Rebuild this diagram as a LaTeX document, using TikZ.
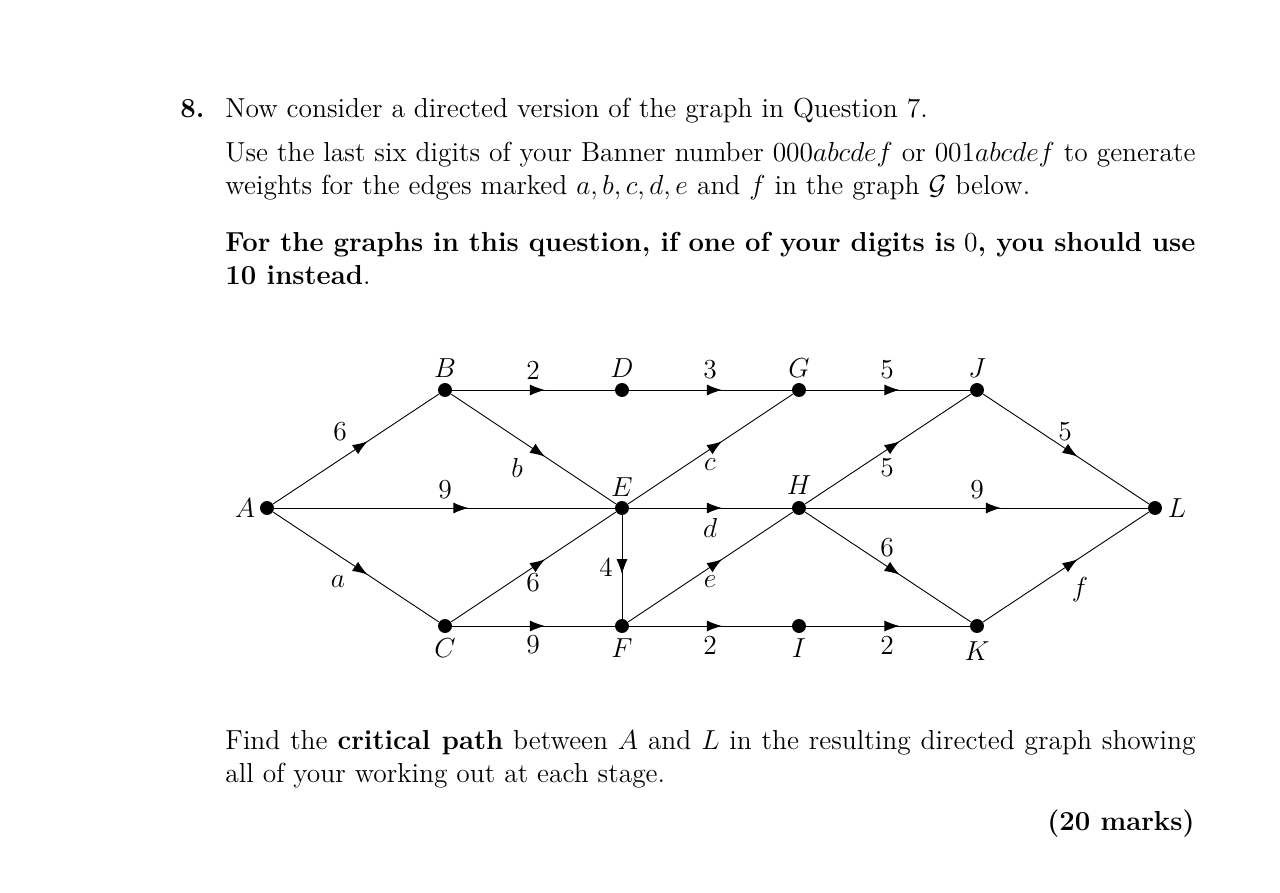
\documentclass[tikz,border=0pt]{standalone}
\usetikzlibrary{decorations.markings,arrows.meta}
\begin{document}
\begin{tikzpicture}[x=1pt,y=-1pt,
  every node/.style={scale=2.29,font=\fontsize{12}{14.4}\selectfont},
  vtx/.style={circle,fill=black,inner sep=0pt,minimum size=6.1pt},
  lbl/.style={inner sep=0pt},
  edge/.style={line width=0.9pt,postaction={decorate},decoration={markings,
    mark=at position 0.57 with {\arrow{Latex[length=15pt,width=11pt]}}}}]
\useasboundingbox (0,0) rectangle (1280,893);
\node[lbl,anchor=base west] at (180,118) {\textbf{8.}};
\node[lbl,anchor=base west] at (225,118) {Now consider a directed version of the graph in Question 7.};
\node[lbl,anchor=north west] (p1) at (225,142) {\parbox[t]{423.6pt}{Use the last six digits of your Banner number $000abcdef$ or $001abcdef$ to generate weights for the edges marked $a,b,c,d,e$ and $f$ in the graph $\mathcal{G}$ below.}};
\node[lbl,anchor=north west] (p2) at (225,232) {\parbox[t]{423.6pt}{\textbf{For the graphs in this question, if one of your digits is} $0$\textbf{, you should use 10 instead}.}};
\node[lbl,anchor=north west] (p3) at (225,730) {\parbox[t]{423.6pt}{Find the \textbf{critical path} between $A$ and $L$ in the resulting directed graph showing all of your working out at each stage.}};
\node[lbl,anchor=base east] (m) at (1195,830) {\textbf{(20 marks)}};

\node[vtx] (A) at (267,508) {};
\node[vtx] (B) at (445,390) {};
\node[vtx] (C) at (445,626) {};
\node[vtx] (D) at (622,390) {};
\node[vtx] (E) at (622,508) {};
\node[vtx] (F) at (622,626) {};
\node[vtx] (G) at (799,390) {};
\node[vtx] (H) at (799,508) {};
\node[vtx] (I) at (799,626) {};
\node[vtx] (J) at (977,390) {};
\node[vtx] (K) at (977,626) {};
\node[vtx] (L) at (1155,508) {};

\node[lbl] (tA) at (245,508) {$A$};
\node[lbl] (tB) at (445,368) {$B$};
\node[lbl] (tD) at (622,368) {$D$};
\node[lbl] (tG) at (799,368) {$G$};
\node[lbl] (tJ) at (977,368) {$J$};
\node[lbl] (tE) at (622,487) {$E$};
\node[lbl] (tH) at (799,485) {$H$};
\node[lbl] (tL) at (1177,508) {$L$};
\node[lbl] (tC) at (445,648) {$C$};
\node[lbl] (tF) at (622,648) {$F$};
\node[lbl] (tI) at (799,648) {$I$};
\node[lbl] (tK) at (977,651) {$K$};

\draw[edge] (A) -- (B); \node[lbl] (w1) at (340,432) {6};
\draw[edge] (A) -- (E); \node[lbl] (w2) at (445,490) {9};
\draw[edge] (A) -- (C); \node[lbl] (w3) at (338,582) {$a$};
\draw[edge] (B) -- (D); \node[lbl] (w4) at (533,370) {2};
\draw[edge] (B) -- (E); \node[lbl] (w5) at (517,468) {$b$};
\draw[edge] (D) -- (G); \node[lbl] (w6) at (710,370) {3};
\draw[edge] (C) -- (E); \node[lbl] (w7) at (533,583) {6};
\draw[edge] (C) -- (F); \node[lbl] (w8) at (533,645) {9};
\draw[edge] (E) -- (F); \node[lbl] (w9) at (606,567) {4};
\draw[edge] (E) -- (G); \node[lbl] (w10) at (710,465) {$c$};
\draw[edge] (E) -- (H); \node[lbl] (w11) at (710,528) {$d$};
\draw[edge] (F) -- (H); \node[lbl] (w12) at (710,582) {$e$};
\draw[edge] (F) -- (I); \node[lbl] (w13) at (710,645) {2};
\draw[edge] (G) -- (J); \node[lbl] (w14) at (887,370) {5};
\draw[edge] (H) -- (J); \node[lbl] (w15) at (887,468) {5};
\draw[edge] (H) -- (L); \node[lbl] (w16) at (977,490) {9};
\draw[edge] (H) -- (K); \node[lbl] (w17) at (887,548) {6};
\draw[edge] (I) -- (K); \node[lbl] (w18) at (887,645) {2};
\draw[edge] (J) -- (L); \node[lbl] (w19) at (1065,432) {5};
\draw[edge] (K) -- (L); \node[lbl] (w20) at (1080,590) {$f$};
\end{tikzpicture}
\end{document}
